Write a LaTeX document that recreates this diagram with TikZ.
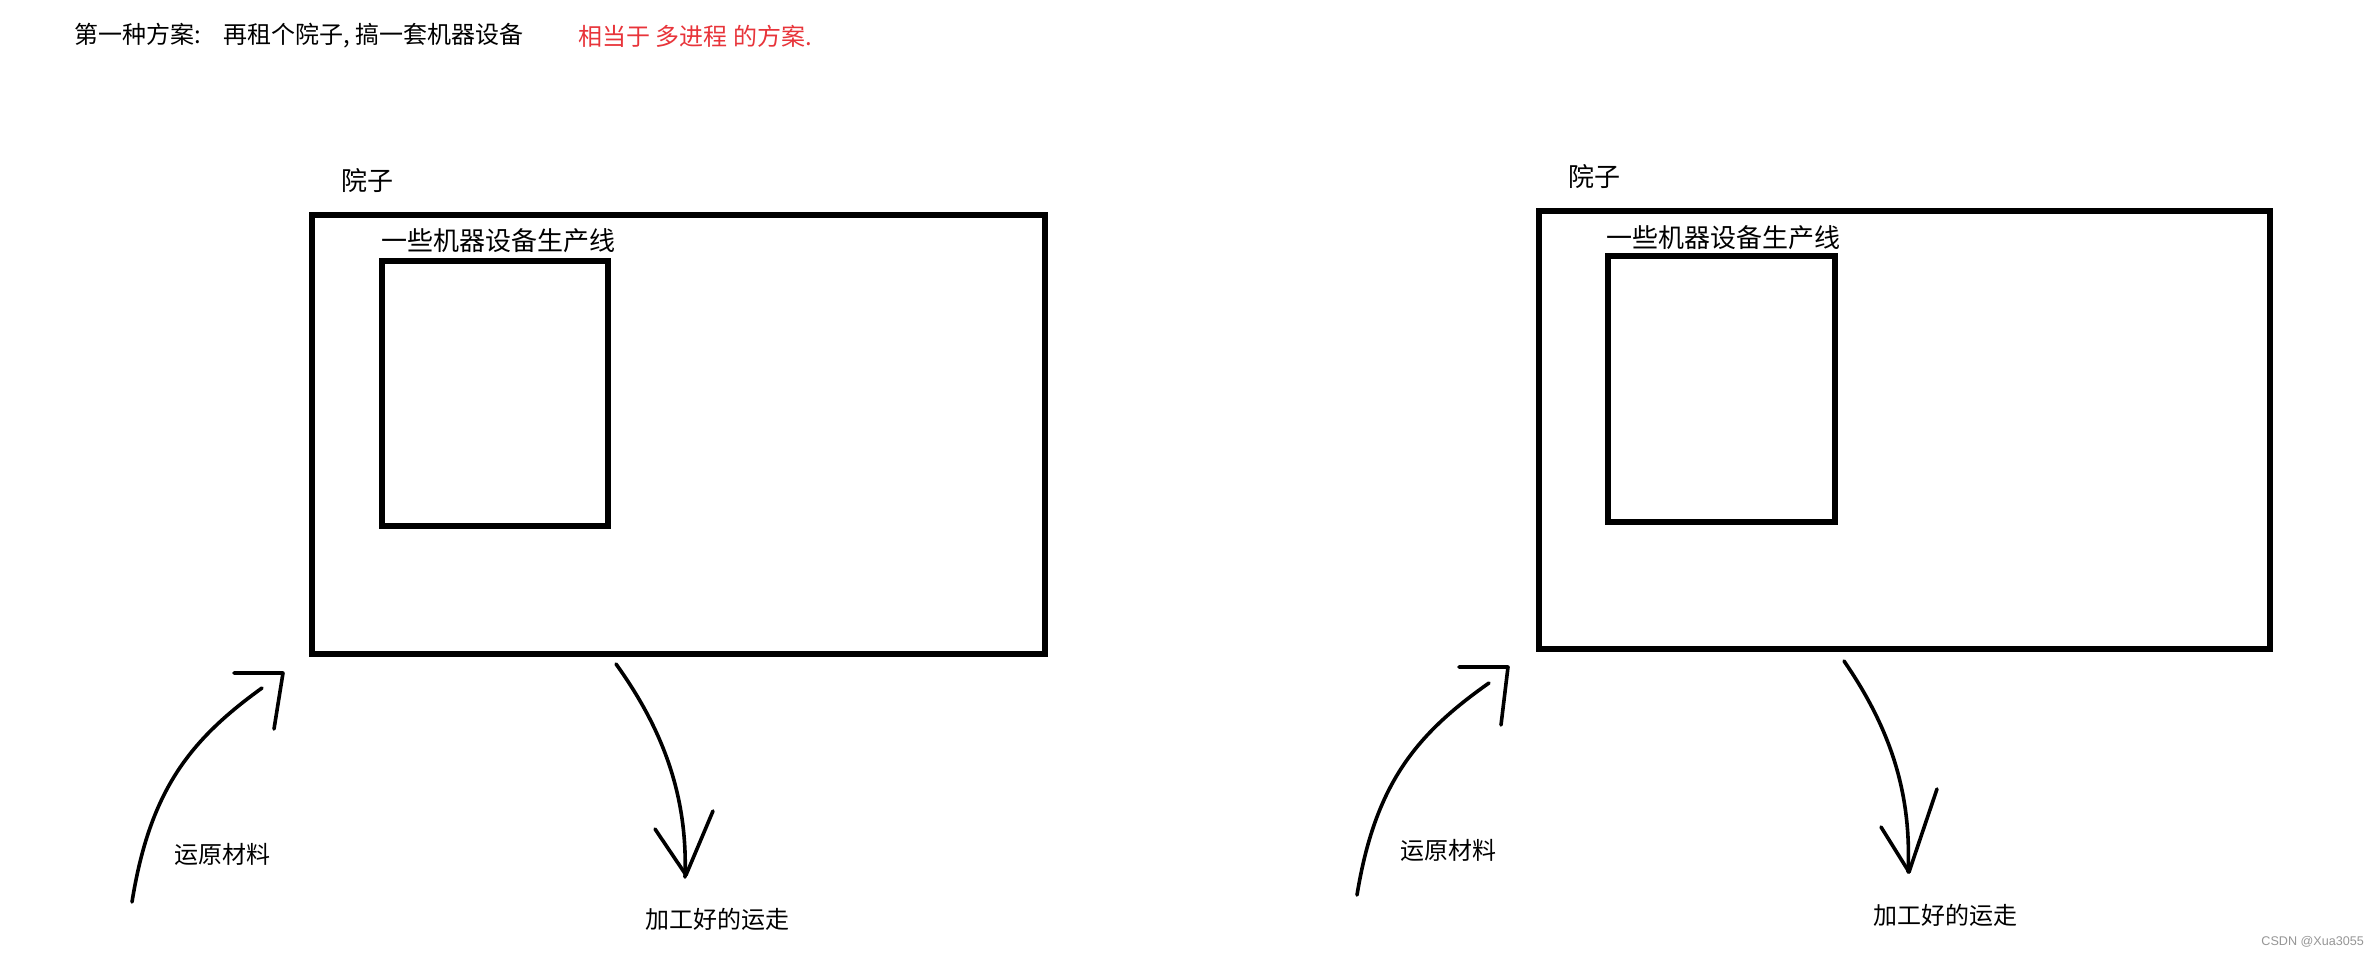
\documentclass[tikz,border=0pt]{standalone}
\usepackage{fontspec}
\newfontfamily\cjk{Noto Sans CJK SC}
\newfontfamily\wm{Liberation Sans}
\definecolor{redtxt}{RGB}{232,52,58}
\definecolor{wmgray}{RGB}{150,150,150}
\begin{document}
\begin{tikzpicture}[x=0.5pt,y=-0.5pt,
  lbl/.style={inner sep=0pt,anchor=west,font=\cjk\fontsize{12pt}{14pt}\selectfont},
  lblbig/.style={inner sep=0pt,anchor=west,font=\cjk\fontsize{13pt}{15pt}\selectfont},
  boxline/.style={line width=2.9pt,line join=miter},
  pen/.style={line width=1.8pt,line cap=round,line join=round}]
\useasboundingbox[fill=white] (0,0) rectangle (2378,956);
\node[lbl] (title) at (74,36) {第一种方案:\hspace{11pt}再租个院子, 搞一套机器设备};
\node[lbl,text=redtxt] (red) at (578,36) {相当于 多进程 的方案.};
% left panel
\node[lblbig] (yzA) at (341,181) {院子};
\draw[boxline] (312,215) rectangle (1045,654);
\node[lblbig] (lineA) at (381,241) {一些机器设备生产线};
\draw[boxline] (382,261) rectangle (608,526);
\draw[pen] (132,902) .. controls (150,790) and (190,740) .. (262,688);
\draw[pen] (234,673) -- (283,673) -- (274,729);
\node[lbl] (inA) at (174,854) {运原材料};
\draw[pen] (616,664) .. controls (662,728) and (688,795) .. (685,877);
\draw[pen] (655,829) -- (686,875) -- (713,811);
\node[lbl] (outA) at (645,919) {加工好的运走};
% right panel
\node[lblbig] (yzB) at (1568,177) {院子};
\draw[boxline] (1539,211) rectangle (2270,649);
\node[lblbig] (lineB) at (1606,238) {一些机器设备生产线};
\draw[boxline] (1608,256) rectangle (1835,522);
\draw[pen] (1357,895) .. controls (1375,785) and (1415,735) .. (1489,683);
\draw[pen] (1459,667) -- (1508,667) -- (1501,725);
\node[lbl] (inB) at (1400,850) {运原材料};
\draw[pen] (1844,661) .. controls (1888,725) and (1912,790) .. (1908,872);
\draw[pen] (1881,827) -- (1909,872) -- (1937,789);
\node[lbl] (outB) at (1873,915) {加工好的运走};
\node[inner sep=0pt,anchor=west,font=\wm\fontsize{6.3pt}{7pt}\selectfont,text=wmgray] (wm) at (2261,942) {CSDN @Xua3055};
\end{tikzpicture}
\end{document}
